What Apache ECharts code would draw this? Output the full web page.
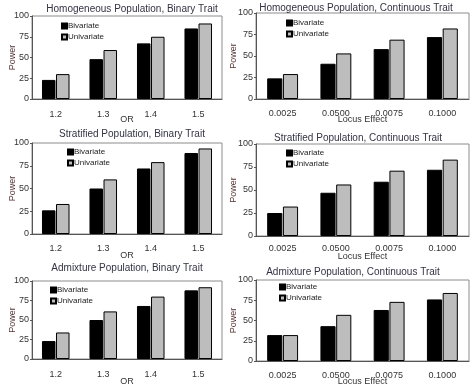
<!DOCTYPE html>
<html><head><meta charset="utf-8">
<script src="https://cdn.jsdelivr.net/npm/echarts@6/dist/echarts.min.js"></script>
<style>html,body{margin:0;padding:0;background:#fff}#c{width:474px;height:387px}</style>
</head><body><div id="c"></div>
<script>
const orCats = ['1.2', '1.3', '1.4', '1.5'];
const locusCats = ['0.0025', '0.0500', '0.0075', '0.1000'];
const seriesNames = ['Bivariate', 'Univariate'];

const homBinBiv = [23, 48, 67, 85];
const homBinUni = [30, 59, 75, 91];
const homContBiv = [24, 41, 58, 72];
const homContUni = [29, 53, 69, 82];
const strBinBiv = [26, 50, 72, 89];
const strBinUni = [33, 60, 79, 94];
const strContBiv = [25, 47, 59, 72];
const strContUni = [32, 56, 71, 83];
const admBinBiv = [23, 50, 68, 88];
const admBinUni = [34, 61, 80, 92];
const admContBiv = [32, 43, 63, 76];
const admContUni = [32, 57, 73, 84];

const panelTitles = [
  'Homogeneous Population, Binary Trait', 'Homogeneous Population, Continuous Trait',
  'Stratified Population, Binary Trait', 'Stratified Population, Continuous Trait',
  'Admixture Population, Binary Trait', 'Admixture Population, Continuous Trait'
];
const panelData = [
  [homBinBiv, homBinUni], [homContBiv, homContUni],
  [strBinBiv, strBinUni], [strContBiv, strContUni],
  [admBinBiv, admBinUni], [admContBiv, admContUni]
];

const FONT = 'Liberation Sans, Arial, sans-serif';
const layout = [
  {g:{left:32,top:16,width:190,height:83}, t:[132,9], lg:[61,26], ln:15, ng:16, yg:15, cats:orCats, xn:'OR'},
  {g:{left:256,top:13,width:213,height:86}, t:[356,8], lg:[286,23], ln:14, ng:16, yg:18, cats:locusCats, xn:'Locus Effect'},
  {g:{left:32,top:143,width:190,height:91}, t:[132,134], lg:[67,152], ln:14, ng:17, yg:15, cats:orCats, xn:'OR'},
  {g:{left:256,top:144,width:213,height:92}, t:[358,138], lg:[286,153], ln:12, ng:16, yg:18, cats:locusCats, xn:'Locus Effect'},
  {g:{left:32,top:281,width:190,height:80}, t:[127,268], lg:[50,290], ln:15, ng:18, yg:15, cats:orCats, xn:'OR'},
  {g:{left:256,top:280,width:213,height:82}, t:[353,272], lg:[279,287], ln:14, ng:16, yg:18, cats:locusCats, xn:'Locus Effect'}
];

const grid = [], xAxis = [], yAxis = [], series = [], title = [], legend = [];
layout.forEach((p, i) => {
  grid.push(Object.assign({show:true, borderColor:'#8c8c8c', borderWidth:1, backgroundColor:'#fff'}, p.g));
  title.push({text: panelTitles[i], left: p.t[0], top: p.t[1] - 6, textAlign:'center', padding:0,
    textStyle:{fontFamily:FONT, fontSize:10, fontWeight:'normal', color:'#333344', lineHeight:12}});
  legend.push({orient:'vertical', left:p.lg[0], top:p.lg[1] - 5, padding:0, data:seriesNames, icon:'rect',
    itemWidth:5, itemHeight:5, itemGap:1, selectedMode:false,
    textStyle:{fontFamily:FONT, fontSize:8, color:'#222', lineHeight:10, padding:[0,0,0,-4]}});
  xAxis.push({type:'category', gridIndex:i, data:p.cats, name:p.xn, nameLocation:'middle', nameGap:p.ng,
    nameMoveOverlap:false,
    nameTextStyle:{fontFamily:FONT, fontSize:9, color:'#333'},
    axisLine:{lineStyle:{color:'#555', width:1}},
    axisTick:{show:false},
    axisLabel:{fontFamily:FONT, fontSize:9, color:'#333', margin:p.ln - 4}});
  yAxis.push({type:'value', gridIndex:i, min:0, max:100, interval:25, name:'Power', nameLocation:'middle', nameGap:p.yg,
    nameMoveOverlap:false,
    nameTextStyle:{fontFamily:FONT, fontSize:9, color:'#553333'},
    axisLine:{show:true, lineStyle:{color:'#555', width:1}},
    axisTick:{show:true, length:2, lineStyle:{color:'#555'}},
    splitLine:{show:false},
    axisLabel:{fontFamily:FONT, fontSize:9, color:'#333', margin:3}});
  series.push({type:'bar', name:seriesNames[0], xAxisIndex:i, yAxisIndex:i, data:panelData[i][0],
    barGap:'4%', barCategoryGap:'42%', itemStyle:{color:'#000', borderColor:'#000', borderWidth:1}});
  series.push({type:'bar', name:seriesNames[1], xAxisIndex:i, yAxisIndex:i, data:panelData[i][1],
    barGap:'4%', barCategoryGap:'42%', itemStyle:{color:'#bdbdbd', borderColor:'#000', borderWidth:1}});
});

const chart = echarts.init(document.getElementById('c'), null, {renderer:'canvas'});
chart.setOption({animation:false, backgroundColor:'#fff', title, legend, grid, xAxis, yAxis, series});
</script></body></html>
